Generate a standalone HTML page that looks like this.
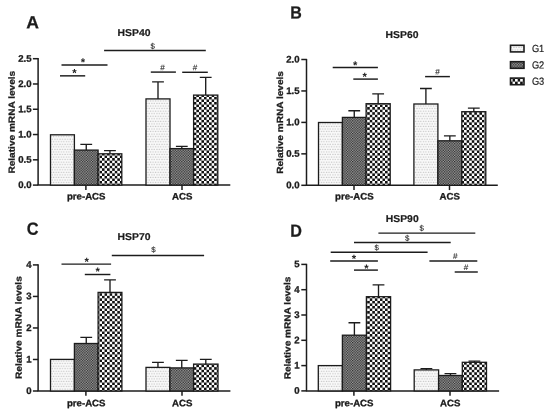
<!DOCTYPE html>
<html lang="en">
<head>
<meta charset="utf-8">
<title>HSP mRNA levels</title>
<style>
html,body{margin:0;padding:0;background:#fff;}
body{width:550px;height:416px;overflow:hidden;}
svg{display:block;}
svg text{font-family:"Liberation Sans",Arial,sans-serif;}
</style>
</head>
<body>
<svg width="550" height="416" viewBox="0 0 550 416">
<defs>
<pattern id="p1" patternUnits="userSpaceOnUse" width="2.55" height="5.1" x="0.4" y="0.3">
<rect width="2.55" height="5.1" fill="#fcfcfc"/>
<rect x="0.3" y="0.6" width="1.3" height="1.2" fill="#c4c4c4"/>
<rect x="1.58" y="3.15" width="1.3" height="1.2" fill="#c4c4c4"/>
<rect x="-0.97" y="3.15" width="1.3" height="1.2" fill="#c4c4c4"/>
</pattern>
<pattern id="p2" patternUnits="userSpaceOnUse" width="2.55" height="2.55" x="0.2" y="0.4">
<rect width="2.55" height="2.55" fill="#a2a2a2"/>
<rect x="0" y="0" width="1.25" height="1.25" fill="#262626"/>
<rect x="1.275" y="1.275" width="1.25" height="1.25" fill="#262626"/>
</pattern>
<pattern id="p3" patternUnits="userSpaceOnUse" width="5.1" height="5.1" x="0" y="0">
<rect width="5.1" height="5.1" fill="#fff"/>
<rect x="0" y="0" width="2.55" height="2.55" fill="#111"/>
<rect x="2.55" y="2.55" width="2.55" height="2.55" fill="#111"/>
</pattern>
</defs>
<rect width="550" height="416" fill="#fff"/>
<path d="M38.1 58.1V185.1" stroke="#1c1c1c" stroke-width="1.5" fill="none"/>
<path d="M37.5 185.1H230.3" stroke="#1c1c1c" stroke-width="1.5" fill="none"/>
<path d="M32.9 185.1H38.1" stroke="#1c1c1c" stroke-width="1.5" fill="none"/>
<text x="31.5" y="188.05" font-size="9.6" font-weight="bold" text-anchor="end" fill="#1c1c1c"  transform="rotate(0.05 31.5 188.05)" stroke="#1c1c1c" stroke-width="0.3">0.0</text>
<path d="M32.9 159.82H38.1" stroke="#1c1c1c" stroke-width="1.5" fill="none"/>
<text x="31.5" y="162.77" font-size="9.6" font-weight="bold" text-anchor="end" fill="#1c1c1c"  transform="rotate(0.05 31.5 162.77)" stroke="#1c1c1c" stroke-width="0.3">0.5</text>
<path d="M32.9 134.54H38.1" stroke="#1c1c1c" stroke-width="1.5" fill="none"/>
<text x="31.5" y="137.49" font-size="9.6" font-weight="bold" text-anchor="end" fill="#1c1c1c"  transform="rotate(0.05 31.5 137.49)" stroke="#1c1c1c" stroke-width="0.3">1.0</text>
<path d="M32.9 109.26H38.1" stroke="#1c1c1c" stroke-width="1.5" fill="none"/>
<text x="31.5" y="112.21" font-size="9.6" font-weight="bold" text-anchor="end" fill="#1c1c1c"  transform="rotate(0.05 31.5 112.21)" stroke="#1c1c1c" stroke-width="0.3">1.5</text>
<path d="M32.9 83.98H38.1" stroke="#1c1c1c" stroke-width="1.5" fill="none"/>
<text x="31.5" y="86.93" font-size="9.6" font-weight="bold" text-anchor="end" fill="#1c1c1c"  transform="rotate(0.05 31.5 86.93)" stroke="#1c1c1c" stroke-width="0.3">2.0</text>
<path d="M32.9 58.7H38.1" stroke="#1c1c1c" stroke-width="1.5" fill="none"/>
<text x="31.5" y="61.65" font-size="9.6" font-weight="bold" text-anchor="end" fill="#1c1c1c"  transform="rotate(0.05 31.5 61.65)" stroke="#1c1c1c" stroke-width="0.3">2.5</text>
<path d="M85.9 185.1V189.9" stroke="#1c1c1c" stroke-width="1.5" fill="none"/>
<text transform="translate(86.2 199.6) rotate(0.05) scale(1.04 1)" font-size="9.3" font-weight="bold" text-anchor="middle" fill="#1c1c1c" stroke="#1c1c1c" stroke-width="0.3">pre-ACS</text>
<path d="M182 185.1V189.9" stroke="#1c1c1c" stroke-width="1.5" fill="none"/>
<text transform="translate(182.3 199.6) rotate(0.05) scale(1.04 1)" font-size="9.3" font-weight="bold" text-anchor="middle" fill="#1c1c1c" stroke="#1c1c1c" stroke-width="0.3">ACS</text>
<rect x="50.5" y="134.8" width="23.9" height="50.3" fill="url(#p1)" stroke="#1c1c1c" stroke-width="1.3"/>
<rect x="74.4" y="150.1" width="23.7" height="35" fill="url(#p2)" stroke="#1c1c1c" stroke-width="1.3"/>
<path d="M86.25 150.1V144.3M80.35 144.3H92.15" stroke="#1c1c1c" stroke-width="1.35" fill="none"/>
<rect x="98.1" y="153.8" width="23.7" height="31.3" fill="url(#p3)" stroke="#1c1c1c" stroke-width="1.3"/>
<path d="M109.95 153.8V150.6M104.05 150.6H115.85" stroke="#1c1c1c" stroke-width="1.35" fill="none"/>
<rect x="146" y="98.9" width="24" height="86.2" fill="url(#p1)" stroke="#1c1c1c" stroke-width="1.3"/>
<path d="M158 98.9V81.8M152.1 81.8H163.9" stroke="#1c1c1c" stroke-width="1.35" fill="none"/>
<rect x="170" y="148.6" width="23.6" height="36.5" fill="url(#p2)" stroke="#1c1c1c" stroke-width="1.3"/>
<path d="M181.8 148.6V146.3M175.9 146.3H187.7" stroke="#1c1c1c" stroke-width="1.35" fill="none"/>
<rect x="193.6" y="95.1" width="24.2" height="90" fill="url(#p3)" stroke="#1c1c1c" stroke-width="1.3"/>
<path d="M205.7 95.1V77.3M199.8 77.3H211.6" stroke="#1c1c1c" stroke-width="1.35" fill="none"/>
<text transform="translate(134 36) rotate(0.05) scale(1.05 1)" font-size="9.9" font-weight="bold" text-anchor="middle" fill="#1c1c1c" stroke="#1c1c1c" stroke-width="0.2">HSP40</text>
<text transform="translate(32.6 28.35) rotate(0.05) scale(1.0 1)" font-size="17.6" font-weight="bold" text-anchor="middle" fill="#1c1c1c" stroke="#1c1c1c" stroke-width="0.25">A</text>
<text transform="translate(14.8 122.2) rotate(-90.05) scale(1.135 1)" font-size="8.9" font-weight="bold" text-anchor="middle" fill="#1c1c1c" stroke="#1c1c1c" stroke-width="0.3">Relative mRNA levels</text>
<path d="M104.1 50.5H205.8" stroke="#1c1c1c" stroke-width="1.45" fill="none"/>
<text x="152.6" y="48.89" font-size="7.9" font-weight="normal" text-anchor="middle" fill="#333" stroke="#333" stroke-width="0.15" transform="rotate(0.05 152.6 46.2)">$</text>
<path d="M61.5 64.9H107.5" stroke="#1c1c1c" stroke-width="1.45" fill="none"/>
<text x="83" y="66.01" font-size="11.2" font-weight="bold" text-anchor="middle" fill="#222" transform="rotate(0.05 83 60.3)">*</text>
<path d="M60 75.85H85.2" stroke="#1c1c1c" stroke-width="1.45" fill="none"/>
<text x="74.5" y="76.71" font-size="11.2" font-weight="bold" text-anchor="middle" fill="#222" transform="rotate(0.05 74.5 71)">*</text>
<path d="M150.8 72.1H175.9" stroke="#1c1c1c" stroke-width="1.45" fill="none"/>
<text x="162.5" y="70.36" font-size="8" font-weight="normal" text-anchor="middle" fill="#333" stroke="#333" stroke-width="0.15" transform="rotate(0.05 162.5 67.6)">#</text>
<path d="M182.2 72.3H207.8" stroke="#1c1c1c" stroke-width="1.45" fill="none"/>
<text x="195" y="70.36" font-size="8" font-weight="normal" text-anchor="middle" fill="#333" stroke="#333" stroke-width="0.15" transform="rotate(0.05 195 67.6)">#</text>
<path d="M306.5 58.9V185.3" stroke="#1c1c1c" stroke-width="1.5" fill="none"/>
<path d="M305.9 185.3H497.8" stroke="#1c1c1c" stroke-width="1.5" fill="none"/>
<path d="M301.3 185.3H306.5" stroke="#1c1c1c" stroke-width="1.5" fill="none"/>
<text x="299.5" y="188.25" font-size="9.6" font-weight="bold" text-anchor="end" fill="#1c1c1c"  transform="rotate(0.05 299.5 188.25)" stroke="#1c1c1c" stroke-width="0.3">0.0</text>
<path d="M301.3 153.85H306.5" stroke="#1c1c1c" stroke-width="1.5" fill="none"/>
<text x="299.5" y="156.8" font-size="9.6" font-weight="bold" text-anchor="end" fill="#1c1c1c"  transform="rotate(0.05 299.5 156.8)" stroke="#1c1c1c" stroke-width="0.3">0.5</text>
<path d="M301.3 122.4H306.5" stroke="#1c1c1c" stroke-width="1.5" fill="none"/>
<text x="299.5" y="125.35" font-size="9.6" font-weight="bold" text-anchor="end" fill="#1c1c1c"  transform="rotate(0.05 299.5 125.35)" stroke="#1c1c1c" stroke-width="0.3">1.0</text>
<path d="M301.3 90.95H306.5" stroke="#1c1c1c" stroke-width="1.5" fill="none"/>
<text x="299.5" y="93.9" font-size="9.6" font-weight="bold" text-anchor="end" fill="#1c1c1c"  transform="rotate(0.05 299.5 93.9)" stroke="#1c1c1c" stroke-width="0.3">1.5</text>
<path d="M301.3 59.5H306.5" stroke="#1c1c1c" stroke-width="1.5" fill="none"/>
<text x="299.5" y="62.45" font-size="9.6" font-weight="bold" text-anchor="end" fill="#1c1c1c"  transform="rotate(0.05 299.5 62.45)" stroke="#1c1c1c" stroke-width="0.3">2.0</text>
<path d="M354 185.3V190.1" stroke="#1c1c1c" stroke-width="1.5" fill="none"/>
<text transform="translate(354.3 199.6) rotate(0.05) scale(1.04 1)" font-size="9.3" font-weight="bold" text-anchor="middle" fill="#1c1c1c" stroke="#1c1c1c" stroke-width="0.3">pre-ACS</text>
<path d="M449.5 185.3V190.1" stroke="#1c1c1c" stroke-width="1.5" fill="none"/>
<text transform="translate(449.8 199.6) rotate(0.05) scale(1.04 1)" font-size="9.3" font-weight="bold" text-anchor="middle" fill="#1c1c1c" stroke="#1c1c1c" stroke-width="0.3">ACS</text>
<rect x="318.5" y="122.5" width="23.9" height="62.8" fill="url(#p1)" stroke="#1c1c1c" stroke-width="1.3"/>
<rect x="342.4" y="117.4" width="23.7" height="67.9" fill="url(#p2)" stroke="#1c1c1c" stroke-width="1.3"/>
<path d="M354.25 117.4V110.7M348.35 110.7H360.15" stroke="#1c1c1c" stroke-width="1.35" fill="none"/>
<rect x="366.1" y="103.7" width="24.1" height="81.6" fill="url(#p3)" stroke="#1c1c1c" stroke-width="1.3"/>
<path d="M378.15 103.7V93.8M372.25 93.8H384.05" stroke="#1c1c1c" stroke-width="1.35" fill="none"/>
<rect x="413.9" y="104" width="24" height="81.3" fill="url(#p1)" stroke="#1c1c1c" stroke-width="1.3"/>
<path d="M425.9 104V88.5M420 88.5H431.8" stroke="#1c1c1c" stroke-width="1.35" fill="none"/>
<rect x="437.9" y="140.8" width="23.9" height="44.5" fill="url(#p2)" stroke="#1c1c1c" stroke-width="1.3"/>
<path d="M449.85 140.8V135.9M443.95 135.9H455.75" stroke="#1c1c1c" stroke-width="1.35" fill="none"/>
<rect x="461.8" y="111.7" width="24" height="73.6" fill="url(#p3)" stroke="#1c1c1c" stroke-width="1.3"/>
<path d="M473.8 111.7V108.1M467.9 108.1H479.7" stroke="#1c1c1c" stroke-width="1.35" fill="none"/>
<text transform="translate(402 38.1) rotate(0.05) scale(1.05 1)" font-size="9.9" font-weight="bold" text-anchor="middle" fill="#1c1c1c" stroke="#1c1c1c" stroke-width="0.2">HSP60</text>
<text transform="translate(296 18.5) rotate(0.05) scale(0.91 1)" font-size="17.6" font-weight="bold" text-anchor="middle" fill="#1c1c1c" stroke="#1c1c1c" stroke-width="0.25">B</text>
<text transform="translate(283 122.4) rotate(-90.05) scale(1.135 1)" font-size="8.9" font-weight="bold" text-anchor="middle" fill="#1c1c1c" stroke="#1c1c1c" stroke-width="0.3">Relative mRNA levels</text>
<path d="M332.7 67.55H377.9" stroke="#1c1c1c" stroke-width="1.45" fill="none"/>
<text x="355.3" y="69.11" font-size="11.2" font-weight="bold" text-anchor="middle" fill="#222" transform="rotate(0.05 355.3 63.4)">*</text>
<path d="M353.3 79.1H377.9" stroke="#1c1c1c" stroke-width="1.45" fill="none"/>
<text x="364.6" y="80.51" font-size="11.2" font-weight="bold" text-anchor="middle" fill="#222" transform="rotate(0.05 364.6 74.8)">*</text>
<path d="M425.1 76.6H449.9" stroke="#1c1c1c" stroke-width="1.45" fill="none"/>
<text x="437.6" y="74.46" font-size="8" font-weight="normal" text-anchor="middle" fill="#333" stroke="#333" stroke-width="0.15" transform="rotate(0.05 437.6 71.7)">#</text>
<rect x="510.5" y="45.3" width="13.5" height="6.6" fill="url(#p1)" stroke="#1c1c1c" stroke-width="1.6"/>
<text transform="translate(531.9 52) rotate(0.05) scale(0.9 1)" font-size="10.3" font-weight="normal" text-anchor="start" fill="#1c1c1c" stroke="#1c1c1c" stroke-width="0.2">G1</text>
<rect x="510.5" y="61.7" width="13.5" height="6.6" fill="url(#p2)" stroke="#1c1c1c" stroke-width="1.6"/>
<text transform="translate(531.9 68.4) rotate(0.05) scale(0.9 1)" font-size="10.3" font-weight="normal" text-anchor="start" fill="#1c1c1c" stroke="#1c1c1c" stroke-width="0.2">G2</text>
<rect x="510.5" y="78.1" width="13.5" height="6.6" fill="url(#p3)" stroke="#1c1c1c" stroke-width="1.6"/>
<text transform="translate(531.9 84.8) rotate(0.05) scale(0.9 1)" font-size="10.3" font-weight="normal" text-anchor="start" fill="#1c1c1c" stroke="#1c1c1c" stroke-width="0.2">G3</text>
<path d="M38.1 264.32V391" stroke="#1c1c1c" stroke-width="1.5" fill="none"/>
<path d="M37.5 391H230.4" stroke="#1c1c1c" stroke-width="1.5" fill="none"/>
<path d="M32.9 391H38.1" stroke="#1c1c1c" stroke-width="1.5" fill="none"/>
<text x="31.5" y="393.95" font-size="9.6" font-weight="bold" text-anchor="end" fill="#1c1c1c"  transform="rotate(0.05 31.5 393.95)" stroke="#1c1c1c" stroke-width="0.3">0</text>
<path d="M32.9 359.48H38.1" stroke="#1c1c1c" stroke-width="1.5" fill="none"/>
<text x="31.5" y="362.43" font-size="9.6" font-weight="bold" text-anchor="end" fill="#1c1c1c"  transform="rotate(0.05 31.5 362.43)" stroke="#1c1c1c" stroke-width="0.3">1</text>
<path d="M32.9 327.96H38.1" stroke="#1c1c1c" stroke-width="1.5" fill="none"/>
<text x="31.5" y="330.91" font-size="9.6" font-weight="bold" text-anchor="end" fill="#1c1c1c"  transform="rotate(0.05 31.5 330.91)" stroke="#1c1c1c" stroke-width="0.3">2</text>
<path d="M32.9 296.44H38.1" stroke="#1c1c1c" stroke-width="1.5" fill="none"/>
<text x="31.5" y="299.39" font-size="9.6" font-weight="bold" text-anchor="end" fill="#1c1c1c"  transform="rotate(0.05 31.5 299.39)" stroke="#1c1c1c" stroke-width="0.3">3</text>
<path d="M32.9 264.92H38.1" stroke="#1c1c1c" stroke-width="1.5" fill="none"/>
<text x="31.5" y="267.87" font-size="9.6" font-weight="bold" text-anchor="end" fill="#1c1c1c"  transform="rotate(0.05 31.5 267.87)" stroke="#1c1c1c" stroke-width="0.3">4</text>
<path d="M85.9 391V395.8" stroke="#1c1c1c" stroke-width="1.5" fill="none"/>
<text transform="translate(86.2 406.3) rotate(0.05) scale(1.04 1)" font-size="9.3" font-weight="bold" text-anchor="middle" fill="#1c1c1c" stroke="#1c1c1c" stroke-width="0.3">pre-ACS</text>
<path d="M182 391V395.8" stroke="#1c1c1c" stroke-width="1.5" fill="none"/>
<text transform="translate(182.3 406.3) rotate(0.05) scale(1.04 1)" font-size="9.3" font-weight="bold" text-anchor="middle" fill="#1c1c1c" stroke="#1c1c1c" stroke-width="0.3">ACS</text>
<rect x="50.5" y="359.4" width="23.9" height="31.6" fill="url(#p1)" stroke="#1c1c1c" stroke-width="1.3"/>
<rect x="74.4" y="343.5" width="23.7" height="47.5" fill="url(#p2)" stroke="#1c1c1c" stroke-width="1.3"/>
<path d="M86.25 343.5V337.3M80.35 337.3H92.15" stroke="#1c1c1c" stroke-width="1.35" fill="none"/>
<rect x="98.1" y="292.4" width="23.8" height="98.6" fill="url(#p3)" stroke="#1c1c1c" stroke-width="1.3"/>
<path d="M110 292.4V279.9M104.1 279.9H115.9" stroke="#1c1c1c" stroke-width="1.35" fill="none"/>
<rect x="146" y="367.4" width="23.9" height="23.6" fill="url(#p1)" stroke="#1c1c1c" stroke-width="1.3"/>
<path d="M157.95 367.4V362.3M152.05 362.3H163.85" stroke="#1c1c1c" stroke-width="1.35" fill="none"/>
<rect x="169.9" y="367.9" width="23.7" height="23.1" fill="url(#p2)" stroke="#1c1c1c" stroke-width="1.3"/>
<path d="M181.75 367.9V360.3M175.85 360.3H187.65" stroke="#1c1c1c" stroke-width="1.35" fill="none"/>
<rect x="193.6" y="364.1" width="24.4" height="26.9" fill="url(#p3)" stroke="#1c1c1c" stroke-width="1.3"/>
<path d="M205.8 364.1V359.3M199.9 359.3H211.7" stroke="#1c1c1c" stroke-width="1.35" fill="none"/>
<text transform="translate(134 240) rotate(0.05) scale(1.05 1)" font-size="9.9" font-weight="bold" text-anchor="middle" fill="#1c1c1c" stroke="#1c1c1c" stroke-width="0.2">HSP70</text>
<text transform="translate(32.7 234.8) rotate(0.05) scale(0.93 1)" font-size="17.6" font-weight="bold" text-anchor="middle" fill="#1c1c1c" stroke="#1c1c1c" stroke-width="0.25">C</text>
<text transform="translate(21.6 327.6) rotate(-90.05) scale(1.135 1)" font-size="8.9" font-weight="bold" text-anchor="middle" fill="#1c1c1c" stroke="#1c1c1c" stroke-width="0.3">Relative mRNA levels</text>
<path d="M111.8 255.4H204.1" stroke="#1c1c1c" stroke-width="1.45" fill="none"/>
<text x="153.4" y="252.29" font-size="7.9" font-weight="normal" text-anchor="middle" fill="#333" stroke="#333" stroke-width="0.15" transform="rotate(0.05 153.4 249.6)">$</text>
<path d="M61.5 264.1H111.1" stroke="#1c1c1c" stroke-width="1.45" fill="none"/>
<text x="86.6" y="265.61" font-size="11.2" font-weight="bold" text-anchor="middle" fill="#222" transform="rotate(0.05 86.6 259.9)">*</text>
<path d="M84.8 274.5H110.4" stroke="#1c1c1c" stroke-width="1.45" fill="none"/>
<text x="97.8" y="275.31" font-size="11.2" font-weight="bold" text-anchor="middle" fill="#222" transform="rotate(0.05 97.8 269.6)">*</text>
<path d="M306.5 263.8V390.9" stroke="#1c1c1c" stroke-width="1.5" fill="none"/>
<path d="M305.9 390.9H499.1" stroke="#1c1c1c" stroke-width="1.5" fill="none"/>
<path d="M301.3 390.9H306.5" stroke="#1c1c1c" stroke-width="1.5" fill="none"/>
<text x="299.5" y="393.85" font-size="9.6" font-weight="bold" text-anchor="end" fill="#1c1c1c"  transform="rotate(0.05 299.5 393.85)" stroke="#1c1c1c" stroke-width="0.3">0</text>
<path d="M301.3 365.6H306.5" stroke="#1c1c1c" stroke-width="1.5" fill="none"/>
<text x="299.5" y="368.55" font-size="9.6" font-weight="bold" text-anchor="end" fill="#1c1c1c"  transform="rotate(0.05 299.5 368.55)" stroke="#1c1c1c" stroke-width="0.3">1</text>
<path d="M301.3 340.3H306.5" stroke="#1c1c1c" stroke-width="1.5" fill="none"/>
<text x="299.5" y="343.25" font-size="9.6" font-weight="bold" text-anchor="end" fill="#1c1c1c"  transform="rotate(0.05 299.5 343.25)" stroke="#1c1c1c" stroke-width="0.3">2</text>
<path d="M301.3 315H306.5" stroke="#1c1c1c" stroke-width="1.5" fill="none"/>
<text x="299.5" y="317.95" font-size="9.6" font-weight="bold" text-anchor="end" fill="#1c1c1c"  transform="rotate(0.05 299.5 317.95)" stroke="#1c1c1c" stroke-width="0.3">3</text>
<path d="M301.3 289.7H306.5" stroke="#1c1c1c" stroke-width="1.5" fill="none"/>
<text x="299.5" y="292.65" font-size="9.6" font-weight="bold" text-anchor="end" fill="#1c1c1c"  transform="rotate(0.05 299.5 292.65)" stroke="#1c1c1c" stroke-width="0.3">4</text>
<path d="M301.3 264.4H306.5" stroke="#1c1c1c" stroke-width="1.5" fill="none"/>
<text x="299.5" y="267.35" font-size="9.6" font-weight="bold" text-anchor="end" fill="#1c1c1c"  transform="rotate(0.05 299.5 267.35)" stroke="#1c1c1c" stroke-width="0.3">5</text>
<path d="M353.9 390.9V395.7" stroke="#1c1c1c" stroke-width="1.5" fill="none"/>
<text transform="translate(354.2 406.3) rotate(0.05) scale(1.04 1)" font-size="9.3" font-weight="bold" text-anchor="middle" fill="#1c1c1c" stroke="#1c1c1c" stroke-width="0.3">pre-ACS</text>
<path d="M450 390.9V395.7" stroke="#1c1c1c" stroke-width="1.5" fill="none"/>
<text transform="translate(450.3 406.3) rotate(0.05) scale(1.04 1)" font-size="9.3" font-weight="bold" text-anchor="middle" fill="#1c1c1c" stroke="#1c1c1c" stroke-width="0.3">ACS</text>
<rect x="318.3" y="365.6" width="24.1" height="25.3" fill="url(#p1)" stroke="#1c1c1c" stroke-width="1.3"/>
<rect x="342.4" y="335.2" width="24" height="55.7" fill="url(#p2)" stroke="#1c1c1c" stroke-width="1.3"/>
<path d="M354.4 335.2V322.7M348.5 322.7H360.3" stroke="#1c1c1c" stroke-width="1.35" fill="none"/>
<rect x="366.4" y="296.7" width="24.2" height="94.2" fill="url(#p3)" stroke="#1c1c1c" stroke-width="1.3"/>
<path d="M378.5 296.7V284.9M372.6 284.9H384.4" stroke="#1c1c1c" stroke-width="1.35" fill="none"/>
<rect x="414.2" y="369.9" width="24.4" height="21" fill="url(#p1)" stroke="#1c1c1c" stroke-width="1.3"/>
<path d="M426.4 369.9V368.6M420.5 368.6H432.3" stroke="#1c1c1c" stroke-width="1.35" fill="none"/>
<rect x="438.6" y="375.5" width="23.7" height="15.4" fill="url(#p2)" stroke="#1c1c1c" stroke-width="1.3"/>
<path d="M450.45 375.5V373.6M444.55 373.6H456.35" stroke="#1c1c1c" stroke-width="1.35" fill="none"/>
<rect x="462.3" y="362.3" width="24.2" height="28.6" fill="url(#p3)" stroke="#1c1c1c" stroke-width="1.3"/>
<path d="M474.4 362.3V361.1M468.5 361.1H480.3" stroke="#1c1c1c" stroke-width="1.35" fill="none"/>
<text transform="translate(402.2 222) rotate(0.05) scale(1.05 1)" font-size="9.9" font-weight="bold" text-anchor="middle" fill="#1c1c1c" stroke="#1c1c1c" stroke-width="0.2">HSP90</text>
<text transform="translate(296.1 236.7) rotate(0.05) scale(0.92 1)" font-size="17.6" font-weight="bold" text-anchor="middle" fill="#1c1c1c" stroke="#1c1c1c" stroke-width="0.25">D</text>
<text transform="translate(290.4 328) rotate(-90.05) scale(1.135 1)" font-size="8.9" font-weight="bold" text-anchor="middle" fill="#1c1c1c" stroke="#1c1c1c" stroke-width="0.3">Relative mRNA levels</text>
<path d="M378.4 233.1H475.3" stroke="#1c1c1c" stroke-width="1.45" fill="none"/>
<text x="421.8" y="230.89" font-size="7.9" font-weight="normal" text-anchor="middle" fill="#333" stroke="#333" stroke-width="0.15" transform="rotate(0.05 421.8 228.2)">$</text>
<path d="M354 242.5H450.7" stroke="#1c1c1c" stroke-width="1.45" fill="none"/>
<text x="407.3" y="240.79" font-size="7.9" font-weight="normal" text-anchor="middle" fill="#333" stroke="#333" stroke-width="0.15" transform="rotate(0.05 407.3 238.1)">$</text>
<path d="M330.7 252.2H427.6" stroke="#1c1c1c" stroke-width="1.45" fill="none"/>
<text x="376.6" y="250.29" font-size="7.9" font-weight="normal" text-anchor="middle" fill="#333" stroke="#333" stroke-width="0.15" transform="rotate(0.05 376.6 247.6)">$</text>
<path d="M330.2 260.9H377.9" stroke="#1c1c1c" stroke-width="1.45" fill="none"/>
<text x="354" y="262.61" font-size="11.2" font-weight="bold" text-anchor="middle" fill="#222" transform="rotate(0.05 354 256.9)">*</text>
<path d="M354 270.1H377.9" stroke="#1c1c1c" stroke-width="1.45" fill="none"/>
<text x="366.4" y="272.21" font-size="11.2" font-weight="bold" text-anchor="middle" fill="#222" transform="rotate(0.05 366.4 266.5)">*</text>
<path d="M429.4 260.9H477.3" stroke="#1c1c1c" stroke-width="1.45" fill="none"/>
<text x="455.2" y="258.66" font-size="8" font-weight="normal" text-anchor="middle" fill="#333" stroke="#333" stroke-width="0.15" transform="rotate(0.05 455.2 255.9)">#</text>
<path d="M454.7 272H477.8" stroke="#1c1c1c" stroke-width="1.45" fill="none"/>
<text x="466" y="269.96" font-size="8" font-weight="normal" text-anchor="middle" fill="#333" stroke="#333" stroke-width="0.15" transform="rotate(0.05 466 267.2)">#</text>
</svg>
</body>
</html>
